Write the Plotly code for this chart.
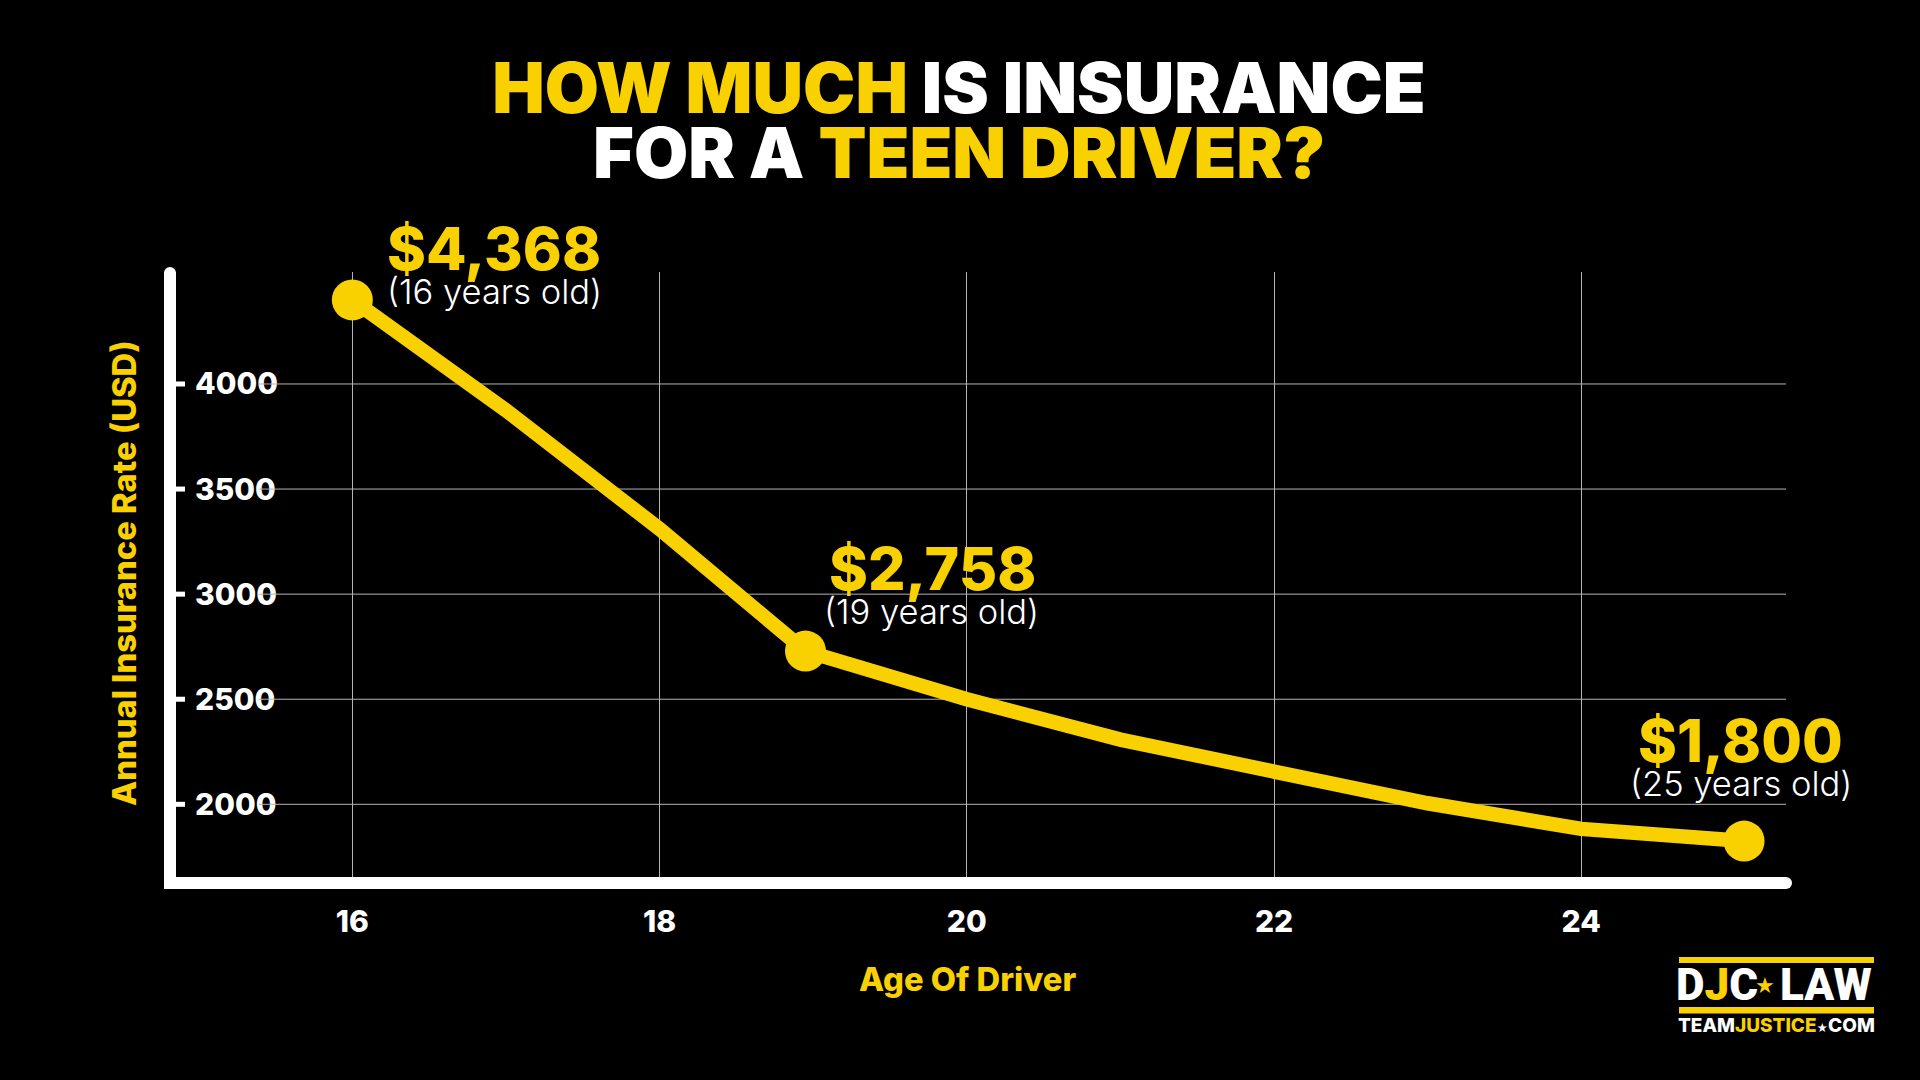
import plotly.graph_objects as go

# line
ages = [16, 17, 18, 18.95, 20, 21, 22, 23, 24, 25.06]
rates = [4400, 3875, 3310, 2729, 2500, 2308, 2156, 2005, 1883, 1825]

# the three highlighted points
marker_ages = [16, 18.95, 25.06]
marker_rates = [4400, 2729, 1825]

x_ticks = [16, 18, 20, 22, 24]
y_ticks = [2000, 2500, 3000, 3500, 4000]

YELLOW = "#F9D100"
WHITE = "#FFFFFF"
GRID = "#B4B4B4"
FONT = "Inter"
LOGO_FONT = "Roboto"

W, H = 1920, 1080
L, R, T, B = 170, 1786, 272, 883


# pixel on the page -> paper coordinates
def px(x):
    return (x - L) / (R - L)


def py(y):
    return (B - y) / (B - T)


def yellow(s):
    return f'<span style="color:{YELLOW}">{s}</span>'


fig = go.Figure()

# horizontal grid starts past the axis and runs over the tick labels, so draw it as lines
for t in y_ticks:
    fig.add_trace(go.Scatter(x=[15.39, 25.333], y=[t, t], mode="lines",
                             line=dict(color=GRID, width=1), hoverinfo="skip", showlegend=False))

fig.add_trace(go.Scatter(x=ages, y=rates, mode="lines",
                         line=dict(color=YELLOW, width=14.5), showlegend=False))
fig.add_trace(go.Scatter(x=marker_ages, y=marker_rates, mode="markers", cliponaxis=False,
                         marker=dict(color=YELLOW, size=41), showlegend=False))

# axis bars with rounded ends
shapes = [
    dict(type="line", xref="paper", yref="paper", x0=px(170), x1=px(170), y0=py(272), y1=py(889),
         line=dict(color=WHITE, width=12)),
    dict(type="line", xref="paper", yref="paper", x0=px(164), x1=px(1786), y0=py(883), y1=py(883),
         line=dict(color=WHITE, width=12)),
    dict(type="circle", xref="paper", yref="paper", x0=px(164), x1=px(176), y0=py(279), y1=py(267),
         fillcolor=WHITE, line_width=0),
    dict(type="circle", xref="paper", yref="paper", x0=px(1780), x1=px(1792), y0=py(889), y1=py(877),
         fillcolor=WHITE, line_width=0),
    # logo bars
    dict(type="rect", xref="paper", yref="paper", x0=px(1679), x1=px(1874), y0=py(963), y1=py(957),
         fillcolor=YELLOW, line_width=0),
    dict(type="rect", xref="paper", yref="paper", x0=px(1679), x1=px(1874), y0=py(1013.5), y1=py(1007),
         fillcolor=YELLOW, line_width=0),
]
# y ticks as short lines off the axis bar
for t in y_ticks:
    shapes.append(dict(type="line", xref="paper", yref="y", x0=px(170), x1=px(185), y0=t, y1=t,
                       line=dict(color=WHITE, width=5)))


def label(text, x, y, size, color, weight=700, angle=0, family=FONT):
    return dict(text=text, xref="paper", yref="paper", x=px(x), y=py(y), xanchor="center", yanchor="middle",
                showarrow=False, textangle=angle, font=dict(family=family, size=size, color=color, weight=weight))


annotations = [
    label(f"FOR A {yellow('TEEN DRIVER?')}", 959, 152, 70, WHITE, 900),
    label("$4,368", 494, 249, 59, YELLOW, 800),
    label("(16 years old)", 494, 291, 34.5, WHITE, 300),
    label("$2,758", 932, 568, 59, YELLOW, 800),
    label("(19 years old)", 931, 611, 34.5, WHITE, 300),
    label("$1,800", 1740, 740.5, 59, YELLOW, 800),
    label("(25 years old)", 1741, 783, 34.5, WHITE, 300),
    label("Age Of Driver", 967, 979, 32.7, YELLOW, 800),
    label("Annual Insurance Rate (USD)", 124, 573, 32.7, YELLOW, 800, -90),
    label(f"D{yellow('J')}C", 1717, 985.5, 44, WHITE, 900, family=LOGO_FONT),
    label("★", 1765, 985.5, 22, YELLOW, 400, family="DejaVu Sans"),
    label("LAW", 1826, 985.5, 44, WHITE, 900, family=LOGO_FONT),
    label(f'TEAM{yellow("JUSTICE")}<span style="font-size:11px">★</span>COM', 1776, 1025.5, 19, WHITE, 800),
]

fig.update_layout(
    width=W,
    height=H,
    margin=dict(l=L, r=W - R, t=T, b=H - B),
    paper_bgcolor="#000000",
    plot_bgcolor="#000000",
    showlegend=False,
    title=dict(text=f"{yellow('HOW MUCH')} IS INSURANCE", x=959 / W, xanchor="center",
               y=1 - 88 / H, yanchor="middle", yref="container",
               font=dict(family=FONT, size=70, color=WHITE, weight=900)),
    xaxis=dict(range=[14.813, 25.333], tickvals=x_ticks, showgrid=True, gridcolor=GRID, gridwidth=1,
               zeroline=False, showline=False, ticks="", ticklabelstandoff=18,
               tickfont=dict(family=FONT, size=30, color=WHITE, weight=800)),
    yaxis=dict(range=[1625.6, 4532.8], tickvals=y_ticks, showgrid=False, zeroline=False, showline=False,
               ticks="", ticklabelposition="inside", ticklabelstandoff=22, layer="below traces",
               tickfont=dict(family=FONT, size=30, color=WHITE, weight=800)),
    shapes=shapes,
    annotations=annotations,
)

fig.write_html("out.html", config={"displayModeBar": False}, post_script="document.body.style.margin='0'")
